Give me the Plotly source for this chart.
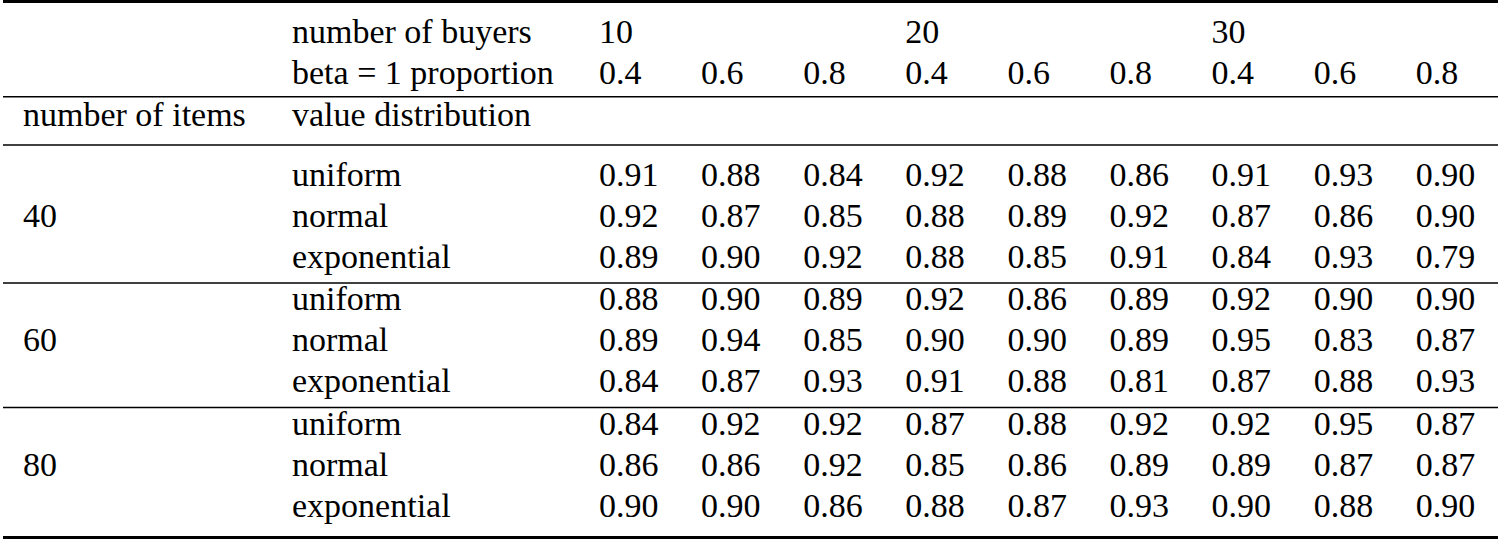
import plotly.graph_objects as go

# table content
buyers = [10, 20, 30]
proportions = [0.4, 0.6, 0.8]
items = [40, 60, 80]
distributions = ["uniform", "normal", "exponential"]

# one row per (items, distribution), columns: buyers x proportion
scores = [
    [0.91, 0.88, 0.84, 0.92, 0.88, 0.86, 0.91, 0.93, 0.90],
    [0.92, 0.87, 0.85, 0.88, 0.89, 0.92, 0.87, 0.86, 0.90],
    [0.89, 0.90, 0.92, 0.88, 0.85, 0.91, 0.84, 0.93, 0.79],
    [0.88, 0.90, 0.89, 0.92, 0.86, 0.89, 0.92, 0.90, 0.90],
    [0.89, 0.94, 0.85, 0.90, 0.90, 0.89, 0.95, 0.83, 0.87],
    [0.84, 0.87, 0.93, 0.91, 0.88, 0.81, 0.87, 0.88, 0.93],
    [0.84, 0.92, 0.92, 0.87, 0.88, 0.92, 0.92, 0.95, 0.87],
    [0.86, 0.86, 0.92, 0.85, 0.86, 0.89, 0.89, 0.87, 0.87],
    [0.90, 0.90, 0.86, 0.88, 0.87, 0.93, 0.90, 0.88, 0.90],
]

# layout grid (canvas units = pixels of the 1502x540 page)
W, H = 1502, 540
FONT = dict(family="Liberation Serif", size=34, color="black")
X_ITEMS, X_DIST = 23, 292
X_NUM0, X_NUM_STEP = 599, 102.1
Y_HEAD = [34.5, 75, 117.5]
Y_BODY0, ROW_STEP, GROUP_STEP = 177, 41.2, 124.5

n_cols = len(buyers) * len(proportions)
num_x = [X_NUM0 + i * X_NUM_STEP for i in range(n_cols)]


def row_y(g, r):
    return Y_BODY0 + g * GROUP_STEP + r * ROW_STEP


def text_trace(xs, ys, texts):
    return go.Scatter(x=xs, y=ys, text=texts, mode="text",
                      textposition="middle right", textfont=FONT,
                      hoverinfo="skip", showlegend=False)


fig = go.Figure()

# header
hx, hy, ht = [], [], []
hx += [X_DIST, X_DIST, X_ITEMS, X_DIST]
hy += [Y_HEAD[0], Y_HEAD[1], Y_HEAD[2], Y_HEAD[2]]
ht += ["number of buyers", "beta = 1 proportion", "number of items", "value distribution"]
for i, b in enumerate(buyers):
    hx.append(num_x[i * len(proportions)])
    hy.append(Y_HEAD[0])
    ht.append(str(b))
    for j, p in enumerate(proportions):
        hx.append(num_x[i * len(proportions) + j])
        hy.append(Y_HEAD[1])
        ht.append(f"{p:.1f}")
fig.add_trace(text_trace(hx, hy, ht))

# row labels
lx, ly, lt = [], [], []
for g, n in enumerate(items):
    lx.append(X_ITEMS)
    ly.append(row_y(g, 1))
    lt.append(str(n))
    for r, d in enumerate(distributions):
        lx.append(X_DIST)
        ly.append(row_y(g, r))
        lt.append(d)
fig.add_trace(text_trace(lx, ly, lt))

# body cells
cx, cy, ct = [], [], []
for k, row in enumerate(scores):
    g, r = divmod(k, len(distributions))
    for c, v in enumerate(row):
        cx.append(num_x[c])
        cy.append(row_y(g, r))
        ct.append(f"{v:.2f}")
fig.add_trace(text_trace(cx, cy, ct))

# booktabs style rules
rules = [(1.4, 3), (96.7, 1.5), (145, 1.5)]
rules += [(row_y(g, 0) - 18.5, 1.5) for g in range(1, len(items))]
rules += [(537.6, 3)]
for y, w in rules:
    fig.add_shape(type="line", x0=3, x1=1498, y0=y, y1=y,
                  xref="x", yref="y", line=dict(color="black", width=w))

fig.update_xaxes(range=[0, W], visible=False, fixedrange=True)
fig.update_yaxes(range=[H, 0], visible=False, fixedrange=True)
fig.update_layout(width=W, height=H, margin=dict(l=0, r=0, t=0, b=0),
                  plot_bgcolor="white", paper_bgcolor="white", hovermode=False)

fig.write_html("out.html", config={"displayModeBar": False},
               post_script="document.body.style.margin = '0';")
